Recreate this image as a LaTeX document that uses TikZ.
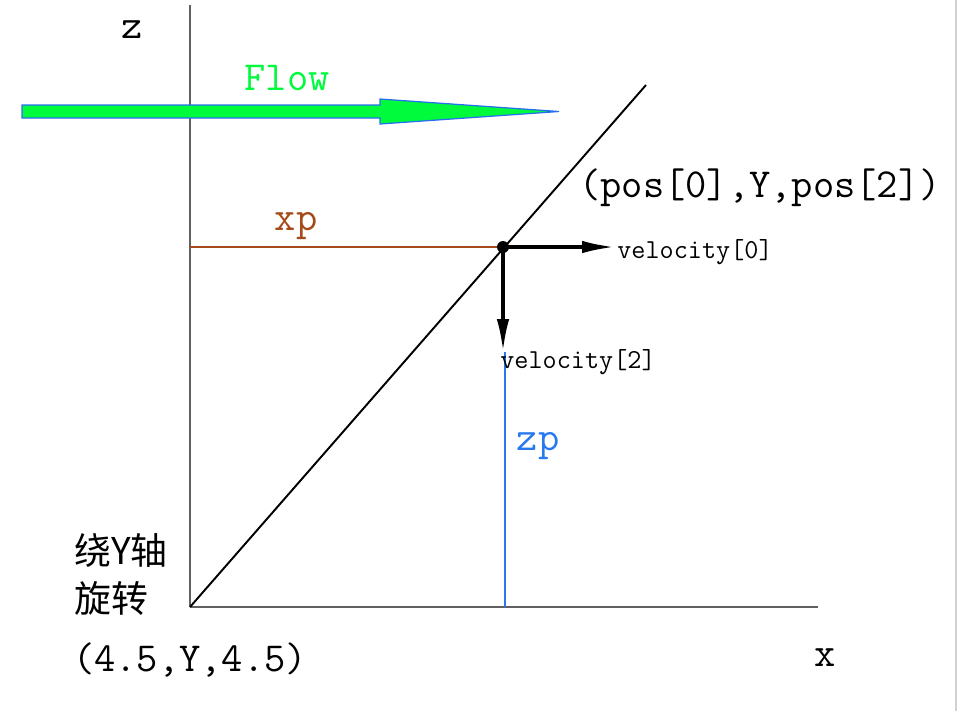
\documentclass[tikz,border=0pt]{standalone}
\usepackage{fontspec}
\newfontfamily\cjk{Noto Sans CJK SC}
\usetikzlibrary{arrows.meta}
\definecolor{flowgreen}{RGB}{0,250,60}
\definecolor{flowedge}{RGB}{40,110,240}
\definecolor{xpbrown}{RGB}{165,75,25}
\definecolor{zpblue}{RGB}{40,120,240}
\tikzset{
  axisline/.style={draw=gray!75!black,line width=0.8pt},
  velarrow/.style={line width=2pt,-{Latex[length=0.66cm,width=0.25cm]}},
  biglabel/.style={inner sep=0pt,font=\ttfamily\fontsize{23.5}{28}\selectfont},
  smalllabel/.style={inner sep=0pt,font=\ttfamily\fontsize{15.6}{18}\selectfont}
}

\begin{document}
\begin{tikzpicture}[x=0.02cm,y=-0.02cm]
\useasboundingbox (0,0) rectangle (960,711);
\coordinate (O) at (190,607);
\coordinate (ztop) at (190,5);
\coordinate (xend) at (818,607);
\coordinate (diagend) at (646,85);
\coordinate (P) at (503,247);
\coordinate (xpstart) at (190,247);
\coordinate (v0) at (615,247);
\coordinate (v2) at (503,352);
\coordinate (zptop) at (505,352);
\coordinate (zpbot) at (505,607);
\coordinate (edgetop) at (956,0);
\coordinate (edgebot) at (956,711);

\draw[gray!35,line width=0.6pt] (edgetop) -- (edgebot);
\draw[axisline] (O) -- (ztop);
\draw[axisline] (O) -- (xend);
\draw[line width=1.1pt] (O) -- (diagend);
\draw[xpbrown,line width=0.6pt] (xpstart) -- (P);
\draw[zpblue,line width=0.6pt] (zptop) -- (zpbot);

\fill[flowgreen,draw=flowedge,line width=0.7pt]
  (22,105) -- (380,105) -- (380,99) -- (559,111.5) -- (380,124) -- (380,118) -- (22,118) -- cycle;

\draw[velarrow] (P) -- (v0);
\draw[velarrow] (P) -- (v2);
\fill (P) circle (6);

\node[biglabel] (zlab) at (132,30) {z};
\node[biglabel] (xlab) at (825,658) {x};
\node[biglabel,text=flowgreen] (flowlab) at (287,78) {Flow};
\node[biglabel,text=xpbrown] (xplab) at (296,226) {xp};
\node[biglabel,text=zpblue] (zplab) at (538,446) {zp};
\node[biglabel] (poslab) at (760,188) {(pos[0],Y,pos[2])};
\node[smalllabel,anchor=west] (v0lab) at (617,252) {velocity[0]};
\node[smalllabel,anchor=west] (v2lab) at (500,362) {velocity[2]};
\node[biglabel,font=\cjk\fontsize{21}{27.5}\selectfont,align=left,anchor=north west] (rotlab) at (74,533) {绕Y轴\\旋转};
\node[biglabel] (originlab) at (190,660) {(4.5,Y,4.5)};
\end{tikzpicture}
\end{document}
